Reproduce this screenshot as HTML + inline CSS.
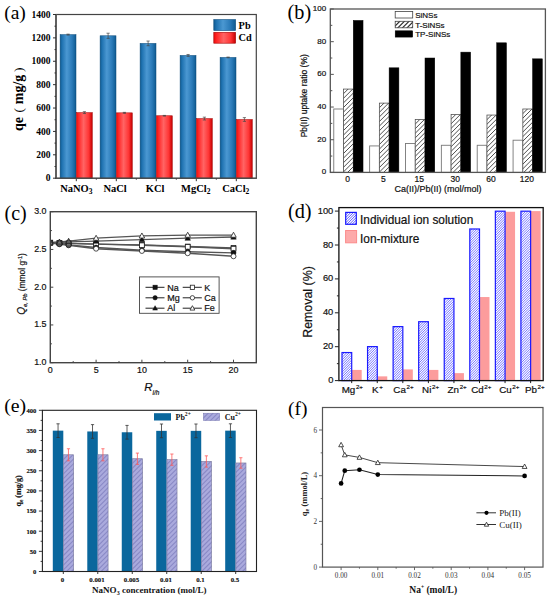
<!DOCTYPE html>
<html><head><meta charset="utf-8"><style>
html,body{margin:0;padding:0;background:#fff;}
body{width:550px;height:598px;overflow:hidden;font-family:"Liberation Sans",sans-serif;}
svg{display:block;}
</style></head><body>
<svg width="550" height="598" viewBox="0 0 550 598">
<rect width="550" height="598" fill="#fff"/>
<defs>
<linearGradient id="gBlue" x1="0" x2="1" y1="0" y2="0">
 <stop offset="0" stop-color="#0e5a92"/>
 <stop offset="0.12" stop-color="#1f72b0"/>
 <stop offset="0.42" stop-color="#4b98d2"/>
 <stop offset="0.75" stop-color="#2a7ab8"/>
 <stop offset="1" stop-color="#0f5a90"/>
</linearGradient>
<linearGradient id="gRed" x1="0" x2="1" y1="0" y2="0">
 <stop offset="0" stop-color="#e80c0c"/>
 <stop offset="0.12" stop-color="#ff2424"/>
 <stop offset="0.45" stop-color="#ff6464"/>
 <stop offset="0.78" stop-color="#ff3434"/>
 <stop offset="1" stop-color="#c40000"/>
</linearGradient>
<pattern id="hB" patternUnits="userSpaceOnUse" width="3.3" height="3.3" patternTransform="rotate(45)">
 <rect width="3.3" height="3.3" fill="#fff"/>
 <line x1="0" y1="0" x2="0" y2="3.3" stroke="#333" stroke-width="1.25"/>
</pattern>
<pattern id="hD" patternUnits="userSpaceOnUse" width="1.62" height="1.62" patternTransform="rotate(45)">
 <rect width="1.62" height="1.62" fill="#ffffff"/>
 <line x1="0.4" y1="0" x2="0.4" y2="1.62" stroke="#5050ff" stroke-width="0.8"/>
</pattern>
<pattern id="hE" patternUnits="userSpaceOnUse" width="4" height="4" patternTransform="rotate(45)">
 <rect width="4" height="4" fill="#aaaadc"/>
 <line x1="0" y1="0" x2="0" y2="4" stroke="#8484c0" stroke-width="1"/>
</pattern>
</defs>
<text x="4.20" y="18.60" font-family='"Liberation Serif", serif' font-size="19.5" font-weight="normal" font-style="normal" text-anchor="start" fill="#000" >(a)</text>
<rect x="60.10" y="34.61" width="15.90" height="143.59" fill="url(#gBlue)" stroke="#0b4a7a" stroke-width="0.5" />
<rect x="76.40" y="112.60" width="15.90" height="65.60" fill="url(#gRed)" stroke="#a00000" stroke-width="0.5" />
<line x1="68.10" y1="34.14" x2="68.10" y2="35.08" stroke="#444" stroke-width="0.7" />
<line x1="66.50" y1="34.14" x2="69.70" y2="34.14" stroke="#444" stroke-width="0.7" />
<line x1="66.50" y1="35.08" x2="69.70" y2="35.08" stroke="#444" stroke-width="0.7" />
<line x1="84.40" y1="111.67" x2="84.40" y2="113.54" stroke="#444" stroke-width="0.7" />
<line x1="82.80" y1="111.67" x2="86.00" y2="111.67" stroke="#444" stroke-width="0.7" />
<line x1="82.80" y1="113.54" x2="86.00" y2="113.54" stroke="#444" stroke-width="0.7" />
<text x="76.30" y="191.80" font-family='"Liberation Serif", serif' font-size="10.5" font-weight="bold" font-style="normal" text-anchor="middle" fill="#000" >NaNO<tspan font-size="7.5" dy="2.5">3</tspan></text>
<line x1="76.30" y1="178.20" x2="76.30" y2="181.20" stroke="#333" stroke-width="1" />
<line x1="96.30" y1="178.20" x2="96.30" y2="179.70" stroke="#333" stroke-width="1" />
<rect x="100.10" y="35.78" width="15.90" height="142.42" fill="url(#gBlue)" stroke="#0b4a7a" stroke-width="0.5" />
<rect x="116.40" y="112.84" width="15.90" height="65.36" fill="url(#gRed)" stroke="#a00000" stroke-width="0.5" />
<line x1="108.10" y1="33.21" x2="108.10" y2="38.35" stroke="#444" stroke-width="0.7" />
<line x1="106.50" y1="33.21" x2="109.70" y2="33.21" stroke="#444" stroke-width="0.7" />
<line x1="106.50" y1="38.35" x2="109.70" y2="38.35" stroke="#444" stroke-width="0.7" />
<line x1="124.40" y1="112.37" x2="124.40" y2="113.30" stroke="#444" stroke-width="0.7" />
<line x1="122.80" y1="112.37" x2="126.00" y2="112.37" stroke="#444" stroke-width="0.7" />
<line x1="122.80" y1="113.30" x2="126.00" y2="113.30" stroke="#444" stroke-width="0.7" />
<text x="115.10" y="191.80" font-family='"Liberation Serif", serif' font-size="10.5" font-weight="bold" font-style="normal" text-anchor="middle" fill="#000" >NaCl</text>
<line x1="116.30" y1="178.20" x2="116.30" y2="181.20" stroke="#333" stroke-width="1" />
<line x1="136.30" y1="178.20" x2="136.30" y2="179.70" stroke="#333" stroke-width="1" />
<rect x="140.10" y="43.38" width="15.90" height="134.82" fill="url(#gBlue)" stroke="#0b4a7a" stroke-width="0.5" />
<rect x="156.40" y="115.76" width="15.90" height="62.44" fill="url(#gRed)" stroke="#a00000" stroke-width="0.5" />
<line x1="148.10" y1="41.04" x2="148.10" y2="45.72" stroke="#444" stroke-width="0.7" />
<line x1="146.50" y1="41.04" x2="149.70" y2="41.04" stroke="#444" stroke-width="0.7" />
<line x1="146.50" y1="45.72" x2="149.70" y2="45.72" stroke="#444" stroke-width="0.7" />
<line x1="164.40" y1="115.41" x2="164.40" y2="116.11" stroke="#444" stroke-width="0.7" />
<line x1="162.80" y1="115.41" x2="166.00" y2="115.41" stroke="#444" stroke-width="0.7" />
<line x1="162.80" y1="116.11" x2="166.00" y2="116.11" stroke="#444" stroke-width="0.7" />
<text x="155.20" y="191.80" font-family='"Liberation Serif", serif' font-size="10.5" font-weight="bold" font-style="normal" text-anchor="middle" fill="#000" >KCl</text>
<line x1="156.30" y1="178.20" x2="156.30" y2="181.20" stroke="#333" stroke-width="1" />
<line x1="176.30" y1="178.20" x2="176.30" y2="179.70" stroke="#333" stroke-width="1" />
<rect x="180.10" y="55.42" width="15.90" height="122.77" fill="url(#gBlue)" stroke="#0b4a7a" stroke-width="0.5" />
<rect x="196.40" y="118.57" width="15.90" height="59.63" fill="url(#gRed)" stroke="#a00000" stroke-width="0.5" />
<line x1="188.10" y1="54.49" x2="188.10" y2="56.36" stroke="#444" stroke-width="0.7" />
<line x1="186.50" y1="54.49" x2="189.70" y2="54.49" stroke="#444" stroke-width="0.7" />
<line x1="186.50" y1="56.36" x2="189.70" y2="56.36" stroke="#444" stroke-width="0.7" />
<line x1="204.40" y1="117.16" x2="204.40" y2="119.97" stroke="#444" stroke-width="0.7" />
<line x1="202.80" y1="117.16" x2="206.00" y2="117.16" stroke="#444" stroke-width="0.7" />
<line x1="202.80" y1="119.97" x2="206.00" y2="119.97" stroke="#444" stroke-width="0.7" />
<text x="195.80" y="191.80" font-family='"Liberation Serif", serif' font-size="10.5" font-weight="bold" font-style="normal" text-anchor="middle" fill="#000" >MgCl<tspan font-size="7.5" dy="2.5">2</tspan></text>
<line x1="196.30" y1="178.20" x2="196.30" y2="181.20" stroke="#333" stroke-width="1" />
<line x1="216.30" y1="178.20" x2="216.30" y2="179.70" stroke="#333" stroke-width="1" />
<rect x="220.10" y="57.41" width="15.90" height="120.79" fill="url(#gBlue)" stroke="#0b4a7a" stroke-width="0.5" />
<rect x="236.40" y="119.50" width="15.90" height="58.70" fill="url(#gRed)" stroke="#a00000" stroke-width="0.5" />
<line x1="228.10" y1="57.06" x2="228.10" y2="57.76" stroke="#444" stroke-width="0.7" />
<line x1="226.50" y1="57.06" x2="229.70" y2="57.06" stroke="#444" stroke-width="0.7" />
<line x1="226.50" y1="57.76" x2="229.70" y2="57.76" stroke="#444" stroke-width="0.7" />
<line x1="244.40" y1="117.63" x2="244.40" y2="121.37" stroke="#444" stroke-width="0.7" />
<line x1="242.80" y1="117.63" x2="246.00" y2="117.63" stroke="#444" stroke-width="0.7" />
<line x1="242.80" y1="121.37" x2="246.00" y2="121.37" stroke="#444" stroke-width="0.7" />
<text x="235.80" y="191.80" font-family='"Liberation Serif", serif' font-size="10.5" font-weight="bold" font-style="normal" text-anchor="middle" fill="#000" >CaCl<tspan font-size="7.5" dy="2.5">2</tspan></text>
<line x1="236.30" y1="178.20" x2="236.30" y2="181.20" stroke="#333" stroke-width="1" />
<rect x="56.00" y="14.50" width="200.30" height="163.70" fill="none" stroke="#444" stroke-width="1.2" />
<line x1="56.00" y1="13.90" x2="56.00" y2="178.80" stroke="#555" stroke-width="1.6" />
<line x1="55.40" y1="178.20" x2="256.90" y2="178.20" stroke="#4a4a4a" stroke-width="1.15" />
<line x1="53.00" y1="178.20" x2="56.00" y2="178.20" stroke="#333" stroke-width="1" />
<text x="50.60" y="181.40" font-family='"Liberation Serif", serif' font-size="9.5" font-weight="bold" font-style="normal" text-anchor="end" fill="#000" >0</text>
<line x1="54.50" y1="166.51" x2="56.00" y2="166.51" stroke="#333" stroke-width="1" />
<line x1="53.00" y1="154.81" x2="56.00" y2="154.81" stroke="#333" stroke-width="1" />
<text x="50.60" y="158.01" font-family='"Liberation Serif", serif' font-size="9.5" font-weight="bold" font-style="normal" text-anchor="end" fill="#000" >200</text>
<line x1="54.50" y1="143.12" x2="56.00" y2="143.12" stroke="#333" stroke-width="1" />
<line x1="53.00" y1="131.43" x2="56.00" y2="131.43" stroke="#333" stroke-width="1" />
<text x="50.60" y="134.63" font-family='"Liberation Serif", serif' font-size="9.5" font-weight="bold" font-style="normal" text-anchor="end" fill="#000" >400</text>
<line x1="54.50" y1="119.74" x2="56.00" y2="119.74" stroke="#333" stroke-width="1" />
<line x1="53.00" y1="108.04" x2="56.00" y2="108.04" stroke="#333" stroke-width="1" />
<text x="50.60" y="111.24" font-family='"Liberation Serif", serif' font-size="9.5" font-weight="bold" font-style="normal" text-anchor="end" fill="#000" >600</text>
<line x1="54.50" y1="96.35" x2="56.00" y2="96.35" stroke="#333" stroke-width="1" />
<line x1="53.00" y1="84.66" x2="56.00" y2="84.66" stroke="#333" stroke-width="1" />
<text x="50.60" y="87.86" font-family='"Liberation Serif", serif' font-size="9.5" font-weight="bold" font-style="normal" text-anchor="end" fill="#000" >800</text>
<line x1="54.50" y1="72.96" x2="56.00" y2="72.96" stroke="#333" stroke-width="1" />
<line x1="53.00" y1="61.27" x2="56.00" y2="61.27" stroke="#333" stroke-width="1" />
<text x="50.60" y="64.47" font-family='"Liberation Serif", serif' font-size="9.5" font-weight="bold" font-style="normal" text-anchor="end" fill="#000" >1000</text>
<line x1="54.50" y1="49.58" x2="56.00" y2="49.58" stroke="#333" stroke-width="1" />
<line x1="53.00" y1="37.89" x2="56.00" y2="37.89" stroke="#333" stroke-width="1" />
<text x="50.60" y="41.09" font-family='"Liberation Serif", serif' font-size="9.5" font-weight="bold" font-style="normal" text-anchor="end" fill="#000" >1200</text>
<line x1="54.50" y1="26.19" x2="56.00" y2="26.19" stroke="#333" stroke-width="1" />
<line x1="53.00" y1="14.50" x2="56.00" y2="14.50" stroke="#333" stroke-width="1" />
<text x="50.60" y="17.70" font-family='"Liberation Serif", serif' font-size="9.5" font-weight="bold" font-style="normal" text-anchor="end" fill="#000" >1400</text>
<g transform="translate(23.0,131.1) rotate(-90)">
<text x="0.00" y="0.00" font-family='"Liberation Serif", serif' font-size="14" font-weight="bold" font-style="normal" text-anchor="start" fill="#000" >qe</text>
<text x="18.60" y="-0.50" font-family='"Liberation Serif", serif' font-size="13.5" font-weight="normal" font-style="normal" text-anchor="start" fill="#000" >(</text>
<text x="26.90" y="0.00" font-family='"Liberation Serif", serif' font-size="14" font-weight="bold" font-style="normal" text-anchor="start" fill="#000" >mg/g</text>
<text x="59.00" y="-0.50" font-family='"Liberation Serif", serif' font-size="13.5" font-weight="normal" font-style="normal" text-anchor="start" fill="#000" >)</text>
</g>
<rect x="213.80" y="19.60" width="21.80" height="10.90" fill="url(#gBlue)" stroke="#0b4a7a" stroke-width="0.6" />
<rect x="213.80" y="32.30" width="21.80" height="10.90" fill="url(#gRed)" stroke="#a00000" stroke-width="0.6" />
<text x="238.60" y="28.70" font-family='"Liberation Serif", serif' font-size="10.3" font-weight="bold" font-style="normal" text-anchor="start" fill="#000" >Pb</text>
<text x="238.60" y="41.30" font-family='"Liberation Serif", serif' font-size="10.3" font-weight="bold" font-style="normal" text-anchor="start" fill="#000" >Cd</text>
<text x="287.60" y="18.60" font-family='"Liberation Serif", serif' font-size="20.3" font-weight="normal" font-style="normal" text-anchor="start" fill="#000" >(b)</text>
<rect x="333.77" y="109.00" width="9.75" height="63.40" fill="#fff" stroke="#777" stroke-width="0.9" />
<clipPath id="c1"><rect x="343.52" y="89.07" width="9.75" height="83.33"/></clipPath>
<rect x="343.52" y="89.07" width="9.75" height="83.33" fill="#fff" stroke="none" stroke-width="1" />
<path clip-path="url(#c1)" d="M342.52,90.07L354.27,78.32M342.52,94.67L354.27,82.92M342.52,99.27L354.27,87.52M342.52,103.87L354.27,92.12M342.52,108.47L354.27,96.72M342.52,113.07L354.27,101.32M342.52,117.67L354.27,105.92M342.52,122.27L354.27,110.52M342.52,126.87L354.27,115.12M342.52,131.47L354.27,119.72M342.52,136.07L354.27,124.32M342.52,140.67L354.27,128.92M342.52,145.27L354.27,133.52M342.52,149.87L354.27,138.12M342.52,154.47L354.27,142.72M342.52,159.07L354.27,147.32M342.52,163.67L354.27,151.92M342.52,168.27L354.27,156.52M342.52,172.87L354.27,161.12M342.52,177.47L354.27,165.72M342.52,182.07L354.27,170.32M342.52,186.67L354.27,174.92" stroke="#444" stroke-width="0.95" fill="none"/>
<rect x="343.52" y="89.07" width="9.75" height="83.33" fill="none" stroke="#555" stroke-width="0.8" />
<rect x="353.27" y="20.44" width="9.75" height="151.96" fill="#000" stroke="#000" stroke-width="0.5" />
<text x="347.60" y="181.70" font-family='"Liberation Sans", sans-serif' font-size="8.5" font-weight="normal" font-style="normal" text-anchor="middle" fill="#111" stroke="#111" stroke-width="0.2">0</text>
<rect x="369.63" y="145.93" width="9.75" height="26.47" fill="#fff" stroke="#777" stroke-width="0.9" />
<clipPath id="c2"><rect x="379.38" y="103.12" width="9.75" height="69.28"/></clipPath>
<rect x="379.38" y="103.12" width="9.75" height="69.28" fill="#fff" stroke="none" stroke-width="1" />
<path clip-path="url(#c2)" d="M378.38,104.12L390.13,92.37M378.38,108.72L390.13,96.97M378.38,113.32L390.13,101.57M378.38,117.92L390.13,106.17M378.38,122.52L390.13,110.77M378.38,127.12L390.13,115.37M378.38,131.72L390.13,119.97M378.38,136.32L390.13,124.57M378.38,140.92L390.13,129.17M378.38,145.52L390.13,133.77M378.38,150.12L390.13,138.37M378.38,154.72L390.13,142.97M378.38,159.32L390.13,147.57M378.38,163.92L390.13,152.17M378.38,168.52L390.13,156.77M378.38,173.12L390.13,161.37M378.38,177.72L390.13,165.97M378.38,182.32L390.13,170.57M378.38,186.92L390.13,175.17" stroke="#444" stroke-width="0.95" fill="none"/>
<rect x="379.38" y="103.12" width="9.75" height="69.28" fill="none" stroke="#555" stroke-width="0.8" />
<rect x="389.13" y="67.82" width="9.75" height="104.58" fill="#000" stroke="#000" stroke-width="0.5" />
<text x="383.46" y="181.70" font-family='"Liberation Sans", sans-serif' font-size="8.5" font-weight="normal" font-style="normal" text-anchor="middle" fill="#111" stroke="#111" stroke-width="0.2">5</text>
<rect x="405.50" y="143.48" width="9.75" height="28.92" fill="#fff" stroke="#777" stroke-width="0.9" />
<clipPath id="c3"><rect x="415.25" y="119.46" width="9.75" height="52.94"/></clipPath>
<rect x="415.25" y="119.46" width="9.75" height="52.94" fill="#fff" stroke="none" stroke-width="1" />
<path clip-path="url(#c3)" d="M414.25,120.46L426.00,108.71M414.25,125.06L426.00,113.31M414.25,129.66L426.00,117.91M414.25,134.26L426.00,122.51M414.25,138.86L426.00,127.11M414.25,143.46L426.00,131.71M414.25,148.06L426.00,136.31M414.25,152.66L426.00,140.91M414.25,157.26L426.00,145.51M414.25,161.86L426.00,150.11M414.25,166.46L426.00,154.71M414.25,171.06L426.00,159.31M414.25,175.66L426.00,163.91M414.25,180.26L426.00,168.51M414.25,184.86L426.00,173.11" stroke="#444" stroke-width="0.95" fill="none"/>
<rect x="415.25" y="119.46" width="9.75" height="52.94" fill="none" stroke="#555" stroke-width="0.8" />
<rect x="425.00" y="58.02" width="9.75" height="114.38" fill="#000" stroke="#000" stroke-width="0.5" />
<text x="419.32" y="181.70" font-family='"Liberation Sans", sans-serif' font-size="8.5" font-weight="normal" font-style="normal" text-anchor="middle" fill="#111" stroke="#111" stroke-width="0.2">15</text>
<rect x="441.35" y="145.28" width="9.75" height="27.12" fill="#fff" stroke="#777" stroke-width="0.9" />
<clipPath id="c4"><rect x="451.10" y="114.56" width="9.75" height="57.84"/></clipPath>
<rect x="451.10" y="114.56" width="9.75" height="57.84" fill="#fff" stroke="none" stroke-width="1" />
<path clip-path="url(#c4)" d="M450.10,115.56L461.85,103.81M450.10,120.16L461.85,108.41M450.10,124.76L461.85,113.01M450.10,129.36L461.85,117.61M450.10,133.96L461.85,122.21M450.10,138.56L461.85,126.81M450.10,143.16L461.85,131.41M450.10,147.76L461.85,136.01M450.10,152.36L461.85,140.61M450.10,156.96L461.85,145.21M450.10,161.56L461.85,149.81M450.10,166.16L461.85,154.41M450.10,170.76L461.85,159.01M450.10,175.36L461.85,163.61M450.10,179.96L461.85,168.21M450.10,184.56L461.85,172.81" stroke="#444" stroke-width="0.95" fill="none"/>
<rect x="451.10" y="114.56" width="9.75" height="57.84" fill="none" stroke="#555" stroke-width="0.8" />
<rect x="460.85" y="52.14" width="9.75" height="120.26" fill="#000" stroke="#000" stroke-width="0.5" />
<text x="455.18" y="181.70" font-family='"Liberation Sans", sans-serif' font-size="8.5" font-weight="normal" font-style="normal" text-anchor="middle" fill="#111" stroke="#111" stroke-width="0.2">30</text>
<rect x="477.21" y="145.28" width="9.75" height="27.12" fill="#fff" stroke="#777" stroke-width="0.9" />
<clipPath id="c5"><rect x="486.96" y="115.05" width="9.75" height="57.35"/></clipPath>
<rect x="486.96" y="115.05" width="9.75" height="57.35" fill="#fff" stroke="none" stroke-width="1" />
<path clip-path="url(#c5)" d="M485.96,116.05L497.71,104.30M485.96,120.65L497.71,108.90M485.96,125.25L497.71,113.50M485.96,129.85L497.71,118.10M485.96,134.45L497.71,122.70M485.96,139.05L497.71,127.30M485.96,143.65L497.71,131.90M485.96,148.25L497.71,136.50M485.96,152.85L497.71,141.10M485.96,157.45L497.71,145.70M485.96,162.05L497.71,150.30M485.96,166.65L497.71,154.90M485.96,171.25L497.71,159.50M485.96,175.85L497.71,164.10M485.96,180.45L497.71,168.70M485.96,185.05L497.71,173.30" stroke="#444" stroke-width="0.95" fill="none"/>
<rect x="486.96" y="115.05" width="9.75" height="57.35" fill="none" stroke="#555" stroke-width="0.8" />
<rect x="496.71" y="42.82" width="9.75" height="129.58" fill="#000" stroke="#000" stroke-width="0.5" />
<text x="491.04" y="181.70" font-family='"Liberation Sans", sans-serif' font-size="8.5" font-weight="normal" font-style="normal" text-anchor="middle" fill="#111" stroke="#111" stroke-width="0.2">60</text>
<rect x="513.08" y="140.21" width="9.75" height="32.19" fill="#fff" stroke="#777" stroke-width="0.9" />
<clipPath id="c6"><rect x="522.83" y="109.00" width="9.75" height="63.40"/></clipPath>
<rect x="522.83" y="109.00" width="9.75" height="63.40" fill="#fff" stroke="none" stroke-width="1" />
<path clip-path="url(#c6)" d="M521.83,110.00L533.58,98.25M521.83,114.60L533.58,102.85M521.83,119.20L533.58,107.45M521.83,123.80L533.58,112.05M521.83,128.40L533.58,116.65M521.83,133.00L533.58,121.25M521.83,137.60L533.58,125.85M521.83,142.20L533.58,130.45M521.83,146.80L533.58,135.05M521.83,151.40L533.58,139.65M521.83,156.00L533.58,144.25M521.83,160.60L533.58,148.85M521.83,165.20L533.58,153.45M521.83,169.80L533.58,158.05M521.83,174.40L533.58,162.65M521.83,179.00L533.58,167.25M521.83,183.60L533.58,171.85" stroke="#444" stroke-width="0.95" fill="none"/>
<rect x="522.83" y="109.00" width="9.75" height="63.40" fill="none" stroke="#555" stroke-width="0.8" />
<rect x="532.58" y="58.84" width="9.75" height="113.56" fill="#000" stroke="#000" stroke-width="0.5" />
<text x="526.90" y="181.70" font-family='"Liberation Sans", sans-serif' font-size="8.5" font-weight="normal" font-style="normal" text-anchor="middle" fill="#111" stroke="#111" stroke-width="0.2">120</text>
<rect x="330.30" y="9.00" width="215.10" height="163.40" fill="none" stroke="#555" stroke-width="1.3" />
<line x1="330.30" y1="172.40" x2="333.80" y2="172.40" stroke="#555" stroke-width="1" />
<text x="326.20" y="174.30" font-family='"Liberation Sans", sans-serif' font-size="8" font-weight="normal" font-style="normal" text-anchor="end" fill="#111" stroke="#111" stroke-width="0.2">0</text>
<line x1="330.30" y1="156.06" x2="332.30" y2="156.06" stroke="#555" stroke-width="1" />
<line x1="330.30" y1="139.72" x2="333.80" y2="139.72" stroke="#555" stroke-width="1" />
<text x="326.20" y="141.62" font-family='"Liberation Sans", sans-serif' font-size="8" font-weight="normal" font-style="normal" text-anchor="end" fill="#111" stroke="#111" stroke-width="0.2">20</text>
<line x1="330.30" y1="123.38" x2="332.30" y2="123.38" stroke="#555" stroke-width="1" />
<line x1="330.30" y1="107.04" x2="333.80" y2="107.04" stroke="#555" stroke-width="1" />
<text x="326.20" y="108.94" font-family='"Liberation Sans", sans-serif' font-size="8" font-weight="normal" font-style="normal" text-anchor="end" fill="#111" stroke="#111" stroke-width="0.2">40</text>
<line x1="330.30" y1="90.70" x2="332.30" y2="90.70" stroke="#555" stroke-width="1" />
<line x1="330.30" y1="74.36" x2="333.80" y2="74.36" stroke="#555" stroke-width="1" />
<text x="326.20" y="76.26" font-family='"Liberation Sans", sans-serif' font-size="8" font-weight="normal" font-style="normal" text-anchor="end" fill="#111" stroke="#111" stroke-width="0.2">60</text>
<line x1="330.30" y1="58.02" x2="332.30" y2="58.02" stroke="#555" stroke-width="1" />
<line x1="330.30" y1="41.68" x2="333.80" y2="41.68" stroke="#555" stroke-width="1" />
<text x="326.20" y="43.58" font-family='"Liberation Sans", sans-serif' font-size="8" font-weight="normal" font-style="normal" text-anchor="end" fill="#111" stroke="#111" stroke-width="0.2">80</text>
<line x1="330.30" y1="25.34" x2="332.30" y2="25.34" stroke="#555" stroke-width="1" />
<line x1="330.30" y1="9.00" x2="333.80" y2="9.00" stroke="#555" stroke-width="1" />
<text x="326.20" y="10.90" font-family='"Liberation Sans", sans-serif' font-size="8" font-weight="normal" font-style="normal" text-anchor="end" fill="#111" stroke="#111" stroke-width="0.2">100</text>
<g transform="translate(307.0,95.8) rotate(-90)">
<text x="0.00" y="0.00" font-family='"Liberation Sans", sans-serif' font-size="8.5" font-weight="normal" font-style="normal" text-anchor="middle" fill="#111" stroke="#111" stroke-width="0.2">Pb(II) uptake ratio (%)</text>
</g>
<text x="438.00" y="192.30" font-family='"Liberation Sans", sans-serif' font-size="9" font-weight="normal" font-style="normal" text-anchor="middle" fill="#111" stroke="#111" stroke-width="0.2">Ca(II)/Pb(II) (mol/mol)</text>
<rect x="395.20" y="11.50" width="17.50" height="6.50" fill="#fff" stroke="#444" stroke-width="0.8" />
<clipPath id="c7"><rect x="395.20" y="21.30" width="17.50" height="6.50"/></clipPath>
<rect x="395.20" y="21.30" width="17.50" height="6.50" fill="#fff" stroke="none" stroke-width="1" />
<path clip-path="url(#c7)" d="M394.20,22.30L413.70,2.80M394.20,26.90L413.70,7.40M394.20,31.50L413.70,12.00M394.20,36.10L413.70,16.60M394.20,40.70L413.70,21.20M394.20,45.30L413.70,25.80M394.20,49.90L413.70,30.40" stroke="#333" stroke-width="1.2" fill="none"/>
<rect x="395.20" y="21.30" width="17.50" height="6.50" fill="none" stroke="#444" stroke-width="0.8" />
<rect x="395.20" y="30.80" width="17.50" height="6.30" fill="#000" stroke="#000" stroke-width="0.5" />
<text x="415.20" y="17.90" font-family='"Liberation Sans", sans-serif' font-size="8" font-weight="normal" font-style="normal" text-anchor="start" fill="#111" stroke="#111" stroke-width="0.2">SiNSs</text>
<text x="415.20" y="27.50" font-family='"Liberation Sans", sans-serif' font-size="8" font-weight="normal" font-style="normal" text-anchor="start" fill="#111" stroke="#111" stroke-width="0.2">T-SiNSs</text>
<text x="415.20" y="37.00" font-family='"Liberation Sans", sans-serif' font-size="8" font-weight="normal" font-style="normal" text-anchor="start" fill="#111" stroke="#111" stroke-width="0.2">TP-SiNSs</text>
<text x="4.50" y="220.20" font-family='"Liberation Serif", serif' font-size="20" font-weight="normal" font-style="normal" text-anchor="start" fill="#000" >(c)</text>
<clipPath id="clipc"><rect x="50.30" y="211.70" width="206.00" height="151.00"/></clipPath>
<g clip-path="url(#clipc)">
<polyline points="50.30,242.66 59.46,243.03 68.62,243.41 96.10,244.17 141.90,244.92 187.70,246.43 233.50,247.94" fill="none" stroke="#555" stroke-width="1.4"/>
<polyline points="50.30,242.66 59.46,243.03 68.62,243.41 96.10,244.17 141.90,245.30 187.70,246.81 233.50,248.69" fill="none" stroke="#555" stroke-width="1.4"/>
<polyline points="50.30,242.66 59.46,244.17 68.62,244.92 96.10,247.56 141.90,250.20 187.70,251.71 233.50,252.85" fill="none" stroke="#555" stroke-width="1.4"/>
<polyline points="50.30,243.03 59.46,244.17 68.62,245.30 96.10,248.69 141.90,250.96 187.70,253.22 233.50,256.25" fill="none" stroke="#555" stroke-width="1.4"/>
<polyline points="50.30,242.66 59.46,242.28 68.62,241.90 96.10,241.14 141.90,239.63 187.70,238.12 233.50,236.99" fill="none" stroke="#555" stroke-width="1.4"/>
<polyline points="50.30,242.66 59.46,241.90 68.62,241.14 96.10,238.12 141.90,235.86 187.70,235.10 233.50,235.10" fill="none" stroke="#555" stroke-width="1.4"/>
<rect x="47.90" y="240.25" width="4.80" height="4.80" fill="#111" stroke="#111" stroke-width="0.6" />
<rect x="57.06" y="240.63" width="4.80" height="4.80" fill="#111" stroke="#111" stroke-width="0.6" />
<rect x="66.22" y="241.01" width="4.80" height="4.80" fill="#111" stroke="#111" stroke-width="0.6" />
<circle cx="50.30" cy="242.66" r="2.50" fill="#111" stroke="#111" stroke-width="0.5"/>
<circle cx="59.46" cy="244.17" r="2.50" fill="#111" stroke="#111" stroke-width="0.5"/>
<circle cx="68.62" cy="244.92" r="2.50" fill="#111" stroke="#111" stroke-width="0.5"/>
<path d="M50.30,239.78 L53.06,244.81 L47.54,244.81Z" fill="#111" stroke="#111" stroke-width="0.5"/>
<path d="M59.46,239.40 L62.22,244.44 L56.70,244.44Z" fill="#111" stroke="#111" stroke-width="0.5"/>
<path d="M68.62,239.02 L71.38,244.06 L65.86,244.06Z" fill="#111" stroke="#111" stroke-width="0.5"/>
<rect x="47.90" y="240.25" width="4.80" height="4.80" fill="rgba(140,140,140,0.5)" stroke="#222" stroke-width="0.8" />
<rect x="57.06" y="240.63" width="4.80" height="4.80" fill="rgba(140,140,140,0.5)" stroke="#222" stroke-width="0.8" />
<rect x="66.22" y="241.01" width="4.80" height="4.80" fill="rgba(140,140,140,0.5)" stroke="#222" stroke-width="0.8" />
<circle cx="50.30" cy="243.03" r="2.50" fill="rgba(140,140,140,0.5)" stroke="#222" stroke-width="0.8"/>
<circle cx="59.46" cy="244.17" r="2.50" fill="rgba(140,140,140,0.5)" stroke="#222" stroke-width="0.8"/>
<circle cx="68.62" cy="245.30" r="2.50" fill="rgba(140,140,140,0.5)" stroke="#222" stroke-width="0.8"/>
<path d="M50.30,239.78 L53.06,244.81 L47.54,244.81Z" fill="rgba(140,140,140,0.5)" stroke="#222" stroke-width="0.8"/>
<path d="M59.46,239.02 L62.22,244.06 L56.70,244.06Z" fill="rgba(140,140,140,0.5)" stroke="#222" stroke-width="0.8"/>
<path d="M68.62,238.26 L71.38,243.30 L65.86,243.30Z" fill="rgba(140,140,140,0.5)" stroke="#222" stroke-width="0.8"/>
<rect x="93.70" y="241.77" width="4.80" height="4.80" fill="#111" stroke="#111" stroke-width="0.6" />
<rect x="139.50" y="242.52" width="4.80" height="4.80" fill="#111" stroke="#111" stroke-width="0.6" />
<rect x="185.30" y="244.03" width="4.80" height="4.80" fill="#111" stroke="#111" stroke-width="0.6" />
<rect x="231.10" y="245.54" width="4.80" height="4.80" fill="#111" stroke="#111" stroke-width="0.6" />
<rect x="93.70" y="241.77" width="4.80" height="4.80" fill="#fff" stroke="#222" stroke-width="0.8" />
<rect x="139.50" y="242.90" width="4.80" height="4.80" fill="#fff" stroke="#222" stroke-width="0.8" />
<rect x="185.30" y="244.41" width="4.80" height="4.80" fill="#fff" stroke="#222" stroke-width="0.8" />
<rect x="231.10" y="246.29" width="4.80" height="4.80" fill="#fff" stroke="#222" stroke-width="0.8" />
<circle cx="96.10" cy="247.56" r="2.50" fill="#111" stroke="#111" stroke-width="0.5"/>
<circle cx="141.90" cy="250.20" r="2.50" fill="#111" stroke="#111" stroke-width="0.5"/>
<circle cx="187.70" cy="251.71" r="2.50" fill="#111" stroke="#111" stroke-width="0.5"/>
<circle cx="233.50" cy="252.85" r="2.50" fill="#111" stroke="#111" stroke-width="0.5"/>
<circle cx="96.10" cy="248.69" r="2.50" fill="#fff" stroke="#222" stroke-width="0.8"/>
<circle cx="141.90" cy="250.96" r="2.50" fill="#fff" stroke="#222" stroke-width="0.8"/>
<circle cx="187.70" cy="253.22" r="2.50" fill="#fff" stroke="#222" stroke-width="0.8"/>
<circle cx="233.50" cy="256.25" r="2.50" fill="#fff" stroke="#222" stroke-width="0.8"/>
<path d="M96.10,238.26 L98.86,243.30 L93.34,243.30Z" fill="#111" stroke="#111" stroke-width="0.5"/>
<path d="M141.90,236.75 L144.66,241.79 L139.14,241.79Z" fill="#111" stroke="#111" stroke-width="0.5"/>
<path d="M187.70,235.25 L190.46,240.28 L184.94,240.28Z" fill="#111" stroke="#111" stroke-width="0.5"/>
<path d="M233.50,234.11 L236.26,239.15 L230.74,239.15Z" fill="#111" stroke="#111" stroke-width="0.5"/>
<path d="M96.10,235.25 L98.86,240.28 L93.34,240.28Z" fill="#fff" stroke="#222" stroke-width="0.8"/>
<path d="M141.90,232.98 L144.66,238.02 L139.14,238.02Z" fill="#fff" stroke="#222" stroke-width="0.8"/>
<path d="M187.70,232.22 L190.46,237.26 L184.94,237.26Z" fill="#fff" stroke="#222" stroke-width="0.8"/>
<path d="M233.50,232.22 L236.26,237.26 L230.74,237.26Z" fill="#fff" stroke="#222" stroke-width="0.8"/>
</g>
<rect x="50.30" y="211.70" width="206.00" height="151.00" fill="none" stroke="#444" stroke-width="1.4" />
<line x1="50.30" y1="362.70" x2="53.30" y2="362.70" stroke="#444" stroke-width="1" />
<text x="46.50" y="365.20" font-family='"Liberation Sans", sans-serif' font-size="8.9" font-weight="normal" font-style="normal" text-anchor="end" fill="#111" stroke="#111" stroke-width="0.2">1.0</text>
<line x1="50.30" y1="343.82" x2="51.90" y2="343.82" stroke="#444" stroke-width="1" />
<line x1="50.30" y1="324.95" x2="53.30" y2="324.95" stroke="#444" stroke-width="1" />
<text x="46.50" y="327.45" font-family='"Liberation Sans", sans-serif' font-size="8.9" font-weight="normal" font-style="normal" text-anchor="end" fill="#111" stroke="#111" stroke-width="0.2">1.5</text>
<line x1="50.30" y1="306.07" x2="51.90" y2="306.07" stroke="#444" stroke-width="1" />
<line x1="50.30" y1="287.20" x2="53.30" y2="287.20" stroke="#444" stroke-width="1" />
<text x="46.50" y="289.70" font-family='"Liberation Sans", sans-serif' font-size="8.9" font-weight="normal" font-style="normal" text-anchor="end" fill="#111" stroke="#111" stroke-width="0.2">2.0</text>
<line x1="50.30" y1="268.32" x2="51.90" y2="268.32" stroke="#444" stroke-width="1" />
<line x1="50.30" y1="249.45" x2="53.30" y2="249.45" stroke="#444" stroke-width="1" />
<text x="46.50" y="251.95" font-family='"Liberation Sans", sans-serif' font-size="8.9" font-weight="normal" font-style="normal" text-anchor="end" fill="#111" stroke="#111" stroke-width="0.2">2.5</text>
<line x1="50.30" y1="230.57" x2="51.90" y2="230.57" stroke="#444" stroke-width="1" />
<line x1="50.30" y1="211.70" x2="53.30" y2="211.70" stroke="#444" stroke-width="1" />
<text x="46.50" y="214.20" font-family='"Liberation Sans", sans-serif' font-size="8.9" font-weight="normal" font-style="normal" text-anchor="end" fill="#111" stroke="#111" stroke-width="0.2">3.0</text>
<line x1="50.30" y1="362.70" x2="50.30" y2="359.70" stroke="#444" stroke-width="1" />
<text x="50.30" y="373.20" font-family='"Liberation Sans", sans-serif' font-size="8.9" font-weight="normal" font-style="normal" text-anchor="middle" fill="#111" stroke="#111" stroke-width="0.2">0</text>
<line x1="73.20" y1="362.70" x2="73.20" y2="361.10" stroke="#444" stroke-width="1" />
<line x1="96.10" y1="362.70" x2="96.10" y2="359.70" stroke="#444" stroke-width="1" />
<text x="96.10" y="373.20" font-family='"Liberation Sans", sans-serif' font-size="8.9" font-weight="normal" font-style="normal" text-anchor="middle" fill="#111" stroke="#111" stroke-width="0.2">5</text>
<line x1="119.00" y1="362.70" x2="119.00" y2="361.10" stroke="#444" stroke-width="1" />
<line x1="141.90" y1="362.70" x2="141.90" y2="359.70" stroke="#444" stroke-width="1" />
<text x="141.90" y="373.20" font-family='"Liberation Sans", sans-serif' font-size="8.9" font-weight="normal" font-style="normal" text-anchor="middle" fill="#111" stroke="#111" stroke-width="0.2">10</text>
<line x1="164.80" y1="362.70" x2="164.80" y2="361.10" stroke="#444" stroke-width="1" />
<line x1="187.70" y1="362.70" x2="187.70" y2="359.70" stroke="#444" stroke-width="1" />
<text x="187.70" y="373.20" font-family='"Liberation Sans", sans-serif' font-size="8.9" font-weight="normal" font-style="normal" text-anchor="middle" fill="#111" stroke="#111" stroke-width="0.2">15</text>
<line x1="210.60" y1="362.70" x2="210.60" y2="361.10" stroke="#444" stroke-width="1" />
<line x1="233.50" y1="362.70" x2="233.50" y2="359.70" stroke="#444" stroke-width="1" />
<text x="233.50" y="373.20" font-family='"Liberation Sans", sans-serif' font-size="8.9" font-weight="normal" font-style="normal" text-anchor="middle" fill="#111" stroke="#111" stroke-width="0.2">20</text>
<rect x="139.50" y="276.90" width="79.60" height="36.40" fill="#fff" stroke="#444" stroke-width="0.9" />
<line x1="145.50" y1="287.30" x2="164.50" y2="287.30" stroke="#222" stroke-width="1" />
<rect x="153.00" y="285.20" width="4.20" height="4.20" fill="#111" stroke="#111" stroke-width="0.6" />
<text x="167.30" y="290.50" font-family='"Liberation Sans", sans-serif' font-size="9" font-weight="normal" font-style="normal" text-anchor="start" fill="#111" stroke="#111" stroke-width="0.2">Na</text>
<line x1="182.70" y1="287.30" x2="201.80" y2="287.30" stroke="#222" stroke-width="1" />
<rect x="190.30" y="285.20" width="4.20" height="4.20" fill="#fff" stroke="#222" stroke-width="0.8" />
<text x="204.20" y="290.50" font-family='"Liberation Sans", sans-serif' font-size="9" font-weight="normal" font-style="normal" text-anchor="start" fill="#111" stroke="#111" stroke-width="0.2">K</text>
<line x1="145.50" y1="297.80" x2="164.50" y2="297.80" stroke="#222" stroke-width="1" />
<circle cx="155.10" cy="297.80" r="2.20" fill="#111" stroke="#111" stroke-width="0.5"/>
<text x="167.30" y="301.00" font-family='"Liberation Sans", sans-serif' font-size="9" font-weight="normal" font-style="normal" text-anchor="start" fill="#111" stroke="#111" stroke-width="0.2">Mg</text>
<line x1="182.70" y1="297.80" x2="201.80" y2="297.80" stroke="#222" stroke-width="1" />
<circle cx="192.40" cy="297.80" r="2.20" fill="#fff" stroke="#222" stroke-width="0.8"/>
<text x="204.20" y="301.00" font-family='"Liberation Sans", sans-serif' font-size="9" font-weight="normal" font-style="normal" text-anchor="start" fill="#111" stroke="#111" stroke-width="0.2">Ca</text>
<line x1="145.50" y1="308.20" x2="164.50" y2="308.20" stroke="#222" stroke-width="1" />
<path d="M155.10,305.68 L157.51,310.09 L152.69,310.09Z" fill="#111" stroke="#111" stroke-width="0.5"/>
<text x="167.30" y="311.40" font-family='"Liberation Sans", sans-serif' font-size="9" font-weight="normal" font-style="normal" text-anchor="start" fill="#111" stroke="#111" stroke-width="0.2">Al</text>
<line x1="182.70" y1="308.20" x2="201.80" y2="308.20" stroke="#222" stroke-width="1" />
<path d="M192.40,305.68 L194.81,310.09 L189.99,310.09Z" fill="#fff" stroke="#222" stroke-width="0.8"/>
<text x="204.20" y="311.40" font-family='"Liberation Sans", sans-serif' font-size="9" font-weight="normal" font-style="normal" text-anchor="start" fill="#111" stroke="#111" stroke-width="0.2">Fe</text>
<g transform="translate(25.2,284) rotate(-90)">
<text x="0.00" y="0.00" font-family='"Liberation Sans", sans-serif' font-size="8.4" font-weight="normal" font-style="normal" text-anchor="middle" fill="#111" stroke="#111" stroke-width="0.2"><tspan font-style="italic" font-size="10">Q</tspan><tspan font-style="italic" font-size="5.8" dy="2">e, Pb</tspan><tspan dy="-2"> (mmol g</tspan><tspan font-size="5.5" dy="-3.2">-1</tspan><tspan dy="3.2">)</tspan></text>
</g>
<text x="144.20" y="390.50" font-family='"Liberation Sans", sans-serif' font-size="11.5" font-weight="normal" font-style="normal" text-anchor="start" fill="#111" stroke="#111" stroke-width="0.2"><tspan font-style="italic">R</tspan><tspan font-style="italic" font-size="6.5" dy="4.3">i/h</tspan></text>
<text x="287.90" y="217.60" font-family='"Liberation Serif", serif' font-size="20.3" font-weight="normal" font-style="normal" text-anchor="start" fill="#000" >(d)</text>
<rect x="351.70" y="369.92" width="10.00" height="10.68" fill="#fc9c9c" stroke="none" stroke-width="1" />
<clipPath id="c8"><rect x="342.00" y="352.55" width="9.70" height="28.05"/></clipPath>
<rect x="342.00" y="352.55" width="9.70" height="28.05" fill="#fff" stroke="none" stroke-width="1" />
<path clip-path="url(#c8)" d="M341.00,353.55L352.70,341.85M341.00,356.00L352.70,344.30M341.00,358.45L352.70,346.75M341.00,360.90L352.70,349.20M341.00,363.35L352.70,351.65M341.00,365.80L352.70,354.10M341.00,368.25L352.70,356.55M341.00,370.70L352.70,359.00M341.00,373.15L352.70,361.45M341.00,375.60L352.70,363.90M341.00,378.05L352.70,366.35M341.00,380.50L352.70,368.80M341.00,382.95L352.70,371.25M341.00,385.40L352.70,373.70M341.00,387.85L352.70,376.15M341.00,390.30L352.70,378.60M341.00,392.75L352.70,381.05" stroke="#5050ff" stroke-width="0.8" fill="none"/>
<rect x="342.00" y="352.55" width="9.70" height="28.05" fill="none" stroke="#1a1aff" stroke-width="1.2" />
<line x1="351.70" y1="380.60" x2="351.70" y2="383.10" stroke="#222" stroke-width="1" />
<text x="352.30" y="393.20" font-family='"Liberation Sans", sans-serif' font-size="9.8" font-weight="normal" font-style="normal" text-anchor="middle" fill="#111" stroke="#111" stroke-width="0.2">Mg<tspan font-size="6.2" dx="0.6" dy="-4.3">2+</tspan></text>
<rect x="377.26" y="376.36" width="10.00" height="4.24" fill="#fc9c9c" stroke="none" stroke-width="1" />
<clipPath id="c9"><rect x="367.56" y="346.62" width="9.70" height="33.98"/></clipPath>
<rect x="367.56" y="346.62" width="9.70" height="33.98" fill="#fff" stroke="none" stroke-width="1" />
<path clip-path="url(#c9)" d="M366.56,347.62L378.26,335.92M366.56,350.07L378.26,338.37M366.56,352.52L378.26,340.82M366.56,354.97L378.26,343.27M366.56,357.42L378.26,345.72M366.56,359.87L378.26,348.17M366.56,362.32L378.26,350.62M366.56,364.77L378.26,353.07M366.56,367.22L378.26,355.52M366.56,369.67L378.26,357.97M366.56,372.12L378.26,360.42M366.56,374.57L378.26,362.87M366.56,377.02L378.26,365.32M366.56,379.47L378.26,367.77M366.56,381.92L378.26,370.22M366.56,384.37L378.26,372.67M366.56,386.82L378.26,375.12M366.56,389.27L378.26,377.57M366.56,391.72L378.26,380.02" stroke="#5050ff" stroke-width="0.8" fill="none"/>
<rect x="367.56" y="346.62" width="9.70" height="33.98" fill="none" stroke="#1a1aff" stroke-width="1.2" />
<line x1="377.26" y1="380.60" x2="377.26" y2="383.10" stroke="#222" stroke-width="1" />
<text x="377.46" y="393.20" font-family='"Liberation Sans", sans-serif' font-size="9.8" font-weight="normal" font-style="normal" text-anchor="middle" fill="#111" stroke="#111" stroke-width="0.2">K<tspan font-size="6.2" dx="0.6" dy="-4.3">+</tspan></text>
<rect x="402.82" y="369.41" width="10.00" height="11.19" fill="#fc9c9c" stroke="none" stroke-width="1" />
<clipPath id="c10"><rect x="393.12" y="326.62" width="9.70" height="53.98"/></clipPath>
<rect x="393.12" y="326.62" width="9.70" height="53.98" fill="#fff" stroke="none" stroke-width="1" />
<path clip-path="url(#c10)" d="M392.12,327.62L403.82,315.92M392.12,330.07L403.82,318.37M392.12,332.52L403.82,320.82M392.12,334.97L403.82,323.27M392.12,337.42L403.82,325.72M392.12,339.87L403.82,328.17M392.12,342.32L403.82,330.62M392.12,344.77L403.82,333.07M392.12,347.22L403.82,335.52M392.12,349.67L403.82,337.97M392.12,352.12L403.82,340.42M392.12,354.57L403.82,342.87M392.12,357.02L403.82,345.32M392.12,359.47L403.82,347.77M392.12,361.92L403.82,350.22M392.12,364.37L403.82,352.67M392.12,366.82L403.82,355.12M392.12,369.27L403.82,357.57M392.12,371.72L403.82,360.02M392.12,374.17L403.82,362.47M392.12,376.62L403.82,364.92M392.12,379.07L403.82,367.37M392.12,381.52L403.82,369.82M392.12,383.97L403.82,372.27M392.12,386.42L403.82,374.72M392.12,388.87L403.82,377.17M392.12,391.32L403.82,379.62" stroke="#5050ff" stroke-width="0.8" fill="none"/>
<rect x="393.12" y="326.62" width="9.70" height="53.98" fill="none" stroke="#1a1aff" stroke-width="1.2" />
<line x1="402.82" y1="380.60" x2="402.82" y2="383.10" stroke="#222" stroke-width="1" />
<text x="403.42" y="393.20" font-family='"Liberation Sans", sans-serif' font-size="9.8" font-weight="normal" font-style="normal" text-anchor="middle" fill="#111" stroke="#111" stroke-width="0.2">Ca<tspan font-size="6.2" dx="0.6" dy="-4.3">2+</tspan></text>
<rect x="428.38" y="369.92" width="10.00" height="10.68" fill="#fc9c9c" stroke="none" stroke-width="1" />
<clipPath id="c11"><rect x="418.68" y="321.71" width="9.70" height="58.89"/></clipPath>
<rect x="418.68" y="321.71" width="9.70" height="58.89" fill="#fff" stroke="none" stroke-width="1" />
<path clip-path="url(#c11)" d="M417.68,322.71L429.38,311.01M417.68,325.16L429.38,313.46M417.68,327.61L429.38,315.91M417.68,330.06L429.38,318.36M417.68,332.51L429.38,320.81M417.68,334.96L429.38,323.26M417.68,337.41L429.38,325.71M417.68,339.86L429.38,328.16M417.68,342.31L429.38,330.61M417.68,344.76L429.38,333.06M417.68,347.21L429.38,335.51M417.68,349.66L429.38,337.96M417.68,352.11L429.38,340.41M417.68,354.56L429.38,342.86M417.68,357.01L429.38,345.31M417.68,359.46L429.38,347.76M417.68,361.91L429.38,350.21M417.68,364.36L429.38,352.66M417.68,366.81L429.38,355.11M417.68,369.26L429.38,357.56M417.68,371.71L429.38,360.01M417.68,374.16L429.38,362.46M417.68,376.61L429.38,364.91M417.68,379.06L429.38,367.36M417.68,381.51L429.38,369.81M417.68,383.96L429.38,372.26M417.68,386.41L429.38,374.71M417.68,388.86L429.38,377.16M417.68,391.31L429.38,379.61" stroke="#5050ff" stroke-width="0.8" fill="none"/>
<rect x="418.68" y="321.71" width="9.70" height="58.89" fill="none" stroke="#1a1aff" stroke-width="1.2" />
<line x1="428.38" y1="380.60" x2="428.38" y2="383.10" stroke="#222" stroke-width="1" />
<text x="430.58" y="393.20" font-family='"Liberation Sans", sans-serif' font-size="9.8" font-weight="normal" font-style="normal" text-anchor="middle" fill="#111" stroke="#111" stroke-width="0.2">Ni<tspan font-size="6.2" dx="0.6" dy="-4.3">2+</tspan></text>
<rect x="453.94" y="373.14" width="10.00" height="7.46" fill="#fc9c9c" stroke="none" stroke-width="1" />
<clipPath id="c12"><rect x="444.24" y="298.48" width="9.70" height="82.12"/></clipPath>
<rect x="444.24" y="298.48" width="9.70" height="82.12" fill="#fff" stroke="none" stroke-width="1" />
<path clip-path="url(#c12)" d="M443.24,299.48L454.94,287.78M443.24,301.93L454.94,290.23M443.24,304.38L454.94,292.68M443.24,306.83L454.94,295.13M443.24,309.28L454.94,297.58M443.24,311.73L454.94,300.03M443.24,314.18L454.94,302.48M443.24,316.63L454.94,304.93M443.24,319.08L454.94,307.38M443.24,321.53L454.94,309.83M443.24,323.98L454.94,312.28M443.24,326.43L454.94,314.73M443.24,328.88L454.94,317.18M443.24,331.33L454.94,319.63M443.24,333.78L454.94,322.08M443.24,336.23L454.94,324.53M443.24,338.68L454.94,326.98M443.24,341.13L454.94,329.43M443.24,343.58L454.94,331.88M443.24,346.03L454.94,334.33M443.24,348.48L454.94,336.78M443.24,350.93L454.94,339.23M443.24,353.38L454.94,341.68M443.24,355.83L454.94,344.13M443.24,358.28L454.94,346.58M443.24,360.73L454.94,349.03M443.24,363.18L454.94,351.48M443.24,365.63L454.94,353.93M443.24,368.08L454.94,356.38M443.24,370.53L454.94,358.83M443.24,372.98L454.94,361.28M443.24,375.43L454.94,363.73M443.24,377.88L454.94,366.18M443.24,380.33L454.94,368.63M443.24,382.78L454.94,371.08M443.24,385.23L454.94,373.53M443.24,387.68L454.94,375.98M443.24,390.13L454.94,378.43M443.24,392.58L454.94,380.88" stroke="#5050ff" stroke-width="0.8" fill="none"/>
<rect x="444.24" y="298.48" width="9.70" height="82.12" fill="none" stroke="#1a1aff" stroke-width="1.2" />
<line x1="453.94" y1="380.60" x2="453.94" y2="383.10" stroke="#222" stroke-width="1" />
<text x="457.14" y="393.20" font-family='"Liberation Sans", sans-serif' font-size="9.8" font-weight="normal" font-style="normal" text-anchor="middle" fill="#111" stroke="#111" stroke-width="0.2">Zn<tspan font-size="6.2" dx="0.6" dy="-4.3">2+</tspan></text>
<rect x="479.50" y="297.04" width="10.00" height="83.56" fill="#fc9c9c" stroke="none" stroke-width="1" />
<clipPath id="c13"><rect x="469.80" y="228.99" width="9.70" height="151.61"/></clipPath>
<rect x="469.80" y="228.99" width="9.70" height="151.61" fill="#fff" stroke="none" stroke-width="1" />
<path clip-path="url(#c13)" d="M468.80,229.99L480.50,218.29M468.80,232.44L480.50,220.74M468.80,234.89L480.50,223.19M468.80,237.34L480.50,225.64M468.80,239.79L480.50,228.09M468.80,242.24L480.50,230.54M468.80,244.69L480.50,232.99M468.80,247.14L480.50,235.44M468.80,249.59L480.50,237.89M468.80,252.04L480.50,240.34M468.80,254.49L480.50,242.79M468.80,256.94L480.50,245.24M468.80,259.39L480.50,247.69M468.80,261.84L480.50,250.14M468.80,264.29L480.50,252.59M468.80,266.74L480.50,255.04M468.80,269.19L480.50,257.49M468.80,271.64L480.50,259.94M468.80,274.09L480.50,262.39M468.80,276.54L480.50,264.84M468.80,278.99L480.50,267.29M468.80,281.44L480.50,269.74M468.80,283.89L480.50,272.19M468.80,286.34L480.50,274.64M468.80,288.79L480.50,277.09M468.80,291.24L480.50,279.54M468.80,293.69L480.50,281.99M468.80,296.14L480.50,284.44M468.80,298.59L480.50,286.89M468.80,301.04L480.50,289.34M468.80,303.49L480.50,291.79M468.80,305.94L480.50,294.24M468.80,308.39L480.50,296.69M468.80,310.84L480.50,299.14M468.80,313.29L480.50,301.59M468.80,315.74L480.50,304.04M468.80,318.19L480.50,306.49M468.80,320.64L480.50,308.94M468.80,323.09L480.50,311.39M468.80,325.54L480.50,313.84M468.80,327.99L480.50,316.29M468.80,330.44L480.50,318.74M468.80,332.89L480.50,321.19M468.80,335.34L480.50,323.64M468.80,337.79L480.50,326.09M468.80,340.24L480.50,328.54M468.80,342.69L480.50,330.99M468.80,345.14L480.50,333.44M468.80,347.59L480.50,335.89M468.80,350.04L480.50,338.34M468.80,352.49L480.50,340.79M468.80,354.94L480.50,343.24M468.80,357.39L480.50,345.69M468.80,359.84L480.50,348.14M468.80,362.29L480.50,350.59M468.80,364.74L480.50,353.04M468.80,367.19L480.50,355.49M468.80,369.64L480.50,357.94M468.80,372.09L480.50,360.39M468.80,374.54L480.50,362.84M468.80,376.99L480.50,365.29M468.80,379.44L480.50,367.74M468.80,381.89L480.50,370.19M468.80,384.34L480.50,372.64M468.80,386.79L480.50,375.09M468.80,389.24L480.50,377.54M468.80,391.69L480.50,379.99" stroke="#5050ff" stroke-width="0.8" fill="none"/>
<rect x="469.80" y="228.99" width="9.70" height="151.61" fill="none" stroke="#1a1aff" stroke-width="1.2" />
<line x1="479.50" y1="380.60" x2="479.50" y2="383.10" stroke="#222" stroke-width="1" />
<text x="481.30" y="393.20" font-family='"Liberation Sans", sans-serif' font-size="9.8" font-weight="normal" font-style="normal" text-anchor="middle" fill="#111" stroke="#111" stroke-width="0.2">Cd<tspan font-size="6.2" dx="0.6" dy="-4.3">2+</tspan></text>
<rect x="505.06" y="211.78" width="10.00" height="168.82" fill="#fc9c9c" stroke="none" stroke-width="1" />
<clipPath id="c14"><rect x="495.36" y="211.19" width="9.70" height="169.41"/></clipPath>
<rect x="495.36" y="211.19" width="9.70" height="169.41" fill="#fff" stroke="none" stroke-width="1" />
<path clip-path="url(#c14)" d="M494.36,212.19L506.06,200.49M494.36,214.64L506.06,202.94M494.36,217.09L506.06,205.39M494.36,219.54L506.06,207.84M494.36,221.99L506.06,210.29M494.36,224.44L506.06,212.74M494.36,226.89L506.06,215.19M494.36,229.34L506.06,217.64M494.36,231.79L506.06,220.09M494.36,234.24L506.06,222.54M494.36,236.69L506.06,224.99M494.36,239.14L506.06,227.44M494.36,241.59L506.06,229.89M494.36,244.04L506.06,232.34M494.36,246.49L506.06,234.79M494.36,248.94L506.06,237.24M494.36,251.39L506.06,239.69M494.36,253.84L506.06,242.14M494.36,256.29L506.06,244.59M494.36,258.74L506.06,247.04M494.36,261.19L506.06,249.49M494.36,263.64L506.06,251.94M494.36,266.09L506.06,254.39M494.36,268.54L506.06,256.84M494.36,270.99L506.06,259.29M494.36,273.44L506.06,261.74M494.36,275.89L506.06,264.19M494.36,278.34L506.06,266.64M494.36,280.79L506.06,269.09M494.36,283.24L506.06,271.54M494.36,285.69L506.06,273.99M494.36,288.14L506.06,276.44M494.36,290.59L506.06,278.89M494.36,293.04L506.06,281.34M494.36,295.49L506.06,283.79M494.36,297.94L506.06,286.24M494.36,300.39L506.06,288.69M494.36,302.84L506.06,291.14M494.36,305.29L506.06,293.59M494.36,307.74L506.06,296.04M494.36,310.19L506.06,298.49M494.36,312.64L506.06,300.94M494.36,315.09L506.06,303.39M494.36,317.54L506.06,305.84M494.36,319.99L506.06,308.29M494.36,322.44L506.06,310.74M494.36,324.89L506.06,313.19M494.36,327.34L506.06,315.64M494.36,329.79L506.06,318.09M494.36,332.24L506.06,320.54M494.36,334.69L506.06,322.99M494.36,337.14L506.06,325.44M494.36,339.59L506.06,327.89M494.36,342.04L506.06,330.34M494.36,344.49L506.06,332.79M494.36,346.94L506.06,335.24M494.36,349.39L506.06,337.69M494.36,351.84L506.06,340.14M494.36,354.29L506.06,342.59M494.36,356.74L506.06,345.04M494.36,359.19L506.06,347.49M494.36,361.64L506.06,349.94M494.36,364.09L506.06,352.39M494.36,366.54L506.06,354.84M494.36,368.99L506.06,357.29M494.36,371.44L506.06,359.74M494.36,373.89L506.06,362.19M494.36,376.34L506.06,364.64M494.36,378.79L506.06,367.09M494.36,381.24L506.06,369.54M494.36,383.69L506.06,371.99M494.36,386.14L506.06,374.44M494.36,388.59L506.06,376.89M494.36,391.04L506.06,379.34M494.36,393.49L506.06,381.79" stroke="#5050ff" stroke-width="0.8" fill="none"/>
<rect x="495.36" y="211.19" width="9.70" height="169.41" fill="none" stroke="#1a1aff" stroke-width="1.2" />
<line x1="505.06" y1="380.60" x2="505.06" y2="383.10" stroke="#222" stroke-width="1" />
<text x="509.26" y="393.20" font-family='"Liberation Sans", sans-serif' font-size="9.8" font-weight="normal" font-style="normal" text-anchor="middle" fill="#111" stroke="#111" stroke-width="0.2">Cu<tspan font-size="6.2" dx="0.6" dy="-4.3">2+</tspan></text>
<rect x="530.62" y="211.10" width="10.00" height="169.50" fill="#fc9c9c" stroke="none" stroke-width="1" />
<clipPath id="c15"><rect x="520.92" y="211.19" width="9.70" height="169.41"/></clipPath>
<rect x="520.92" y="211.19" width="9.70" height="169.41" fill="#fff" stroke="none" stroke-width="1" />
<path clip-path="url(#c15)" d="M519.92,212.19L531.62,200.49M519.92,214.64L531.62,202.94M519.92,217.09L531.62,205.39M519.92,219.54L531.62,207.84M519.92,221.99L531.62,210.29M519.92,224.44L531.62,212.74M519.92,226.89L531.62,215.19M519.92,229.34L531.62,217.64M519.92,231.79L531.62,220.09M519.92,234.24L531.62,222.54M519.92,236.69L531.62,224.99M519.92,239.14L531.62,227.44M519.92,241.59L531.62,229.89M519.92,244.04L531.62,232.34M519.92,246.49L531.62,234.79M519.92,248.94L531.62,237.24M519.92,251.39L531.62,239.69M519.92,253.84L531.62,242.14M519.92,256.29L531.62,244.59M519.92,258.74L531.62,247.04M519.92,261.19L531.62,249.49M519.92,263.64L531.62,251.94M519.92,266.09L531.62,254.39M519.92,268.54L531.62,256.84M519.92,270.99L531.62,259.29M519.92,273.44L531.62,261.74M519.92,275.89L531.62,264.19M519.92,278.34L531.62,266.64M519.92,280.79L531.62,269.09M519.92,283.24L531.62,271.54M519.92,285.69L531.62,273.99M519.92,288.14L531.62,276.44M519.92,290.59L531.62,278.89M519.92,293.04L531.62,281.34M519.92,295.49L531.62,283.79M519.92,297.94L531.62,286.24M519.92,300.39L531.62,288.69M519.92,302.84L531.62,291.14M519.92,305.29L531.62,293.59M519.92,307.74L531.62,296.04M519.92,310.19L531.62,298.49M519.92,312.64L531.62,300.94M519.92,315.09L531.62,303.39M519.92,317.54L531.62,305.84M519.92,319.99L531.62,308.29M519.92,322.44L531.62,310.74M519.92,324.89L531.62,313.19M519.92,327.34L531.62,315.64M519.92,329.79L531.62,318.09M519.92,332.24L531.62,320.54M519.92,334.69L531.62,322.99M519.92,337.14L531.62,325.44M519.92,339.59L531.62,327.89M519.92,342.04L531.62,330.34M519.92,344.49L531.62,332.79M519.92,346.94L531.62,335.24M519.92,349.39L531.62,337.69M519.92,351.84L531.62,340.14M519.92,354.29L531.62,342.59M519.92,356.74L531.62,345.04M519.92,359.19L531.62,347.49M519.92,361.64L531.62,349.94M519.92,364.09L531.62,352.39M519.92,366.54L531.62,354.84M519.92,368.99L531.62,357.29M519.92,371.44L531.62,359.74M519.92,373.89L531.62,362.19M519.92,376.34L531.62,364.64M519.92,378.79L531.62,367.09M519.92,381.24L531.62,369.54M519.92,383.69L531.62,371.99M519.92,386.14L531.62,374.44M519.92,388.59L531.62,376.89M519.92,391.04L531.62,379.34M519.92,393.49L531.62,381.79" stroke="#5050ff" stroke-width="0.8" fill="none"/>
<rect x="520.92" y="211.19" width="9.70" height="169.41" fill="none" stroke="#1a1aff" stroke-width="1.2" />
<line x1="530.62" y1="380.60" x2="530.62" y2="383.10" stroke="#222" stroke-width="1" />
<text x="534.82" y="393.20" font-family='"Liberation Sans", sans-serif' font-size="9.8" font-weight="normal" font-style="normal" text-anchor="middle" fill="#111" stroke="#111" stroke-width="0.2">Pb<tspan font-size="6.2" dx="0.6" dy="-4.3">2+</tspan></text>
<rect x="338.90" y="207.60" width="204.30" height="173.00" fill="none" stroke="#111" stroke-width="1.3" />
<line x1="334.90" y1="380.60" x2="338.90" y2="380.60" stroke="#222" stroke-width="1" />
<text x="333.30" y="383.10" font-family='"Liberation Sans", sans-serif' font-size="9.3" font-weight="normal" font-style="normal" text-anchor="end" fill="#111" stroke="#111" stroke-width="0.2">0</text>
<line x1="336.90" y1="363.65" x2="338.90" y2="363.65" stroke="#222" stroke-width="1" />
<line x1="334.90" y1="346.70" x2="338.90" y2="346.70" stroke="#222" stroke-width="1" />
<text x="333.30" y="349.20" font-family='"Liberation Sans", sans-serif' font-size="9.3" font-weight="normal" font-style="normal" text-anchor="end" fill="#111" stroke="#111" stroke-width="0.2">20</text>
<line x1="336.90" y1="329.75" x2="338.90" y2="329.75" stroke="#222" stroke-width="1" />
<line x1="334.90" y1="312.80" x2="338.90" y2="312.80" stroke="#222" stroke-width="1" />
<text x="333.30" y="315.30" font-family='"Liberation Sans", sans-serif' font-size="9.3" font-weight="normal" font-style="normal" text-anchor="end" fill="#111" stroke="#111" stroke-width="0.2">40</text>
<line x1="336.90" y1="295.85" x2="338.90" y2="295.85" stroke="#222" stroke-width="1" />
<line x1="334.90" y1="278.90" x2="338.90" y2="278.90" stroke="#222" stroke-width="1" />
<text x="333.30" y="281.40" font-family='"Liberation Sans", sans-serif' font-size="9.3" font-weight="normal" font-style="normal" text-anchor="end" fill="#111" stroke="#111" stroke-width="0.2">60</text>
<line x1="336.90" y1="261.95" x2="338.90" y2="261.95" stroke="#222" stroke-width="1" />
<line x1="334.90" y1="245.00" x2="338.90" y2="245.00" stroke="#222" stroke-width="1" />
<text x="333.30" y="247.50" font-family='"Liberation Sans", sans-serif' font-size="9.3" font-weight="normal" font-style="normal" text-anchor="end" fill="#111" stroke="#111" stroke-width="0.2">80</text>
<line x1="336.90" y1="228.05" x2="338.90" y2="228.05" stroke="#222" stroke-width="1" />
<line x1="334.90" y1="211.10" x2="338.90" y2="211.10" stroke="#222" stroke-width="1" />
<text x="333.30" y="213.60" font-family='"Liberation Sans", sans-serif' font-size="9.3" font-weight="normal" font-style="normal" text-anchor="end" fill="#111" stroke="#111" stroke-width="0.2">100</text>
<g transform="translate(311.9,302.0) rotate(-90)">
<text x="0.00" y="0.00" font-family='"Liberation Sans", sans-serif' font-size="12.4" font-weight="normal" font-style="normal" text-anchor="middle" fill="#111" stroke="#111" stroke-width="0.2">Removal (%)</text>
</g>
<clipPath id="c16"><rect x="345.70" y="212.40" width="10.60" height="11.90"/></clipPath>
<rect x="345.70" y="212.40" width="10.60" height="11.90" fill="#fff" stroke="none" stroke-width="1" />
<path clip-path="url(#c16)" d="M344.70,213.40L357.30,200.80M344.70,216.00L357.30,203.40M344.70,218.60L357.30,206.00M344.70,221.20L357.30,208.60M344.70,223.80L357.30,211.20M344.70,226.40L357.30,213.80M344.70,229.00L357.30,216.40M344.70,231.60L357.30,219.00M344.70,234.20L357.30,221.60M344.70,236.80L357.30,224.20" stroke="#4a4aff" stroke-width="0.9" fill="none"/>
<rect x="345.70" y="212.40" width="10.60" height="11.90" fill="none" stroke="#1a1aff" stroke-width="1.2" />
<rect x="345.60" y="230.50" width="11.00" height="12.30" fill="#fdaaaa" stroke="#fb8c8c" stroke-width="1.0" />
<text x="360.00" y="224.20" font-family='"Liberation Sans", sans-serif' font-size="11.85" font-weight="normal" font-style="normal" text-anchor="start" fill="#111" stroke="#111" stroke-width="0.2">Individual ion solution</text>
<text x="360.00" y="242.50" font-family='"Liberation Sans", sans-serif' font-size="11.85" font-weight="normal" font-style="normal" text-anchor="start" fill="#111" stroke="#111" stroke-width="0.2">Ion-mixture</text>
<text x="4.20" y="412.00" font-family='"Liberation Serif", serif' font-size="19.8" font-weight="normal" font-style="normal" text-anchor="start" fill="#000" >(e)</text>
<rect x="52.80" y="430.65" width="10.50" height="140.85" fill="#0a679d" stroke="none" stroke-width="1" />
<clipPath id="c17"><rect x="63.30" y="454.79" width="10.30" height="116.71"/></clipPath>
<rect x="63.30" y="454.79" width="10.30" height="116.71" fill="#aaaadd" stroke="none" stroke-width="1" />
<path clip-path="url(#c17)" d="M62.30,455.79L74.60,443.49M62.30,460.59L74.60,448.29M62.30,465.39L74.60,453.09M62.30,470.19L74.60,457.89M62.30,474.99L74.60,462.69M62.30,479.79L74.60,467.49M62.30,484.59L74.60,472.29M62.30,489.39L74.60,477.09M62.30,494.19L74.60,481.89M62.30,498.99L74.60,486.69M62.30,503.79L74.60,491.49M62.30,508.59L74.60,496.29M62.30,513.39L74.60,501.09M62.30,518.19L74.60,505.89M62.30,522.99L74.60,510.69M62.30,527.79L74.60,515.49M62.30,532.59L74.60,520.29M62.30,537.39L74.60,525.09M62.30,542.19L74.60,529.89M62.30,546.99L74.60,534.69M62.30,551.79L74.60,539.49M62.30,556.59L74.60,544.29M62.30,561.39L74.60,549.09M62.30,566.19L74.60,553.89M62.30,570.99L74.60,558.69M62.30,575.79L74.60,563.49M62.30,580.59L74.60,568.29M62.30,585.39L74.60,573.09" stroke="#8a8ac6" stroke-width="1.1" fill="none"/>
<rect x="63.50" y="454.79" width="10.10" height="116.71" fill="none" stroke="#77779a" stroke-width="0.6" />
<line x1="58.05" y1="423.80" x2="58.05" y2="437.50" stroke="#333" stroke-width="0.8" />
<line x1="56.45" y1="423.80" x2="59.65" y2="423.80" stroke="#333" stroke-width="0.8" />
<line x1="56.45" y1="437.50" x2="59.65" y2="437.50" stroke="#333" stroke-width="0.8" />
<line x1="68.45" y1="448.75" x2="68.45" y2="460.84" stroke="#ff5a5a" stroke-width="0.8" />
<line x1="66.85" y1="448.75" x2="70.05" y2="448.75" stroke="#ff5a5a" stroke-width="0.8" />
<line x1="66.85" y1="460.84" x2="70.05" y2="460.84" stroke="#ff5a5a" stroke-width="0.8" />
<line x1="63.30" y1="571.50" x2="63.30" y2="574.00" stroke="#222" stroke-width="0.9" />
<text x="62.50" y="581.70" font-family='"Liberation Serif", serif' font-size="6.8" font-weight="bold" font-style="normal" text-anchor="middle" fill="#111" stroke="#111" stroke-width="0.15">0</text>
<rect x="87.28" y="431.46" width="10.50" height="140.04" fill="#0a679d" stroke="none" stroke-width="1" />
<clipPath id="c18"><rect x="97.78" y="454.79" width="10.30" height="116.71"/></clipPath>
<rect x="97.78" y="454.79" width="10.30" height="116.71" fill="#aaaadd" stroke="none" stroke-width="1" />
<path clip-path="url(#c18)" d="M96.78,455.79L109.08,443.49M96.78,460.59L109.08,448.29M96.78,465.39L109.08,453.09M96.78,470.19L109.08,457.89M96.78,474.99L109.08,462.69M96.78,479.79L109.08,467.49M96.78,484.59L109.08,472.29M96.78,489.39L109.08,477.09M96.78,494.19L109.08,481.89M96.78,498.99L109.08,486.69M96.78,503.79L109.08,491.49M96.78,508.59L109.08,496.29M96.78,513.39L109.08,501.09M96.78,518.19L109.08,505.89M96.78,522.99L109.08,510.69M96.78,527.79L109.08,515.49M96.78,532.59L109.08,520.29M96.78,537.39L109.08,525.09M96.78,542.19L109.08,529.89M96.78,546.99L109.08,534.69M96.78,551.79L109.08,539.49M96.78,556.59L109.08,544.29M96.78,561.39L109.08,549.09M96.78,566.19L109.08,553.89M96.78,570.99L109.08,558.69M96.78,575.79L109.08,563.49M96.78,580.59L109.08,568.29M96.78,585.39L109.08,573.09" stroke="#8a8ac6" stroke-width="1.1" fill="none"/>
<rect x="97.98" y="454.79" width="10.10" height="116.71" fill="none" stroke="#77779a" stroke-width="0.6" />
<line x1="92.53" y1="424.61" x2="92.53" y2="438.31" stroke="#333" stroke-width="0.8" />
<line x1="90.93" y1="424.61" x2="94.13" y2="424.61" stroke="#333" stroke-width="0.8" />
<line x1="90.93" y1="438.31" x2="94.13" y2="438.31" stroke="#333" stroke-width="0.8" />
<line x1="102.93" y1="448.75" x2="102.93" y2="460.84" stroke="#ff5a5a" stroke-width="0.8" />
<line x1="101.33" y1="448.75" x2="104.53" y2="448.75" stroke="#ff5a5a" stroke-width="0.8" />
<line x1="101.33" y1="460.84" x2="104.53" y2="460.84" stroke="#ff5a5a" stroke-width="0.8" />
<line x1="97.78" y1="571.50" x2="97.78" y2="574.00" stroke="#222" stroke-width="0.9" />
<text x="96.98" y="581.70" font-family='"Liberation Serif", serif' font-size="6.8" font-weight="bold" font-style="normal" text-anchor="middle" fill="#111" stroke="#111" stroke-width="0.15">0.001</text>
<rect x="121.76" y="432.26" width="10.50" height="139.24" fill="#0a679d" stroke="none" stroke-width="1" />
<clipPath id="c19"><rect x="132.26" y="458.74" width="10.30" height="112.76"/></clipPath>
<rect x="132.26" y="458.74" width="10.30" height="112.76" fill="#aaaadd" stroke="none" stroke-width="1" />
<path clip-path="url(#c19)" d="M131.26,459.74L143.56,447.44M131.26,464.54L143.56,452.24M131.26,469.34L143.56,457.04M131.26,474.14L143.56,461.84M131.26,478.94L143.56,466.64M131.26,483.74L143.56,471.44M131.26,488.54L143.56,476.24M131.26,493.34L143.56,481.04M131.26,498.14L143.56,485.84M131.26,502.94L143.56,490.64M131.26,507.74L143.56,495.44M131.26,512.54L143.56,500.24M131.26,517.34L143.56,505.04M131.26,522.14L143.56,509.84M131.26,526.94L143.56,514.64M131.26,531.74L143.56,519.44M131.26,536.54L143.56,524.24M131.26,541.34L143.56,529.04M131.26,546.14L143.56,533.84M131.26,550.94L143.56,538.64M131.26,555.74L143.56,543.44M131.26,560.54L143.56,548.24M131.26,565.34L143.56,553.04M131.26,570.14L143.56,557.84M131.26,574.94L143.56,562.64M131.26,579.74L143.56,567.44M131.26,584.54L143.56,572.24" stroke="#8a8ac6" stroke-width="1.1" fill="none"/>
<rect x="132.46" y="458.74" width="10.10" height="112.76" fill="none" stroke="#77779a" stroke-width="0.6" />
<line x1="127.01" y1="425.41" x2="127.01" y2="439.11" stroke="#333" stroke-width="0.8" />
<line x1="125.41" y1="425.41" x2="128.61" y2="425.41" stroke="#333" stroke-width="0.8" />
<line x1="125.41" y1="439.11" x2="128.61" y2="439.11" stroke="#333" stroke-width="0.8" />
<line x1="137.41" y1="453.10" x2="137.41" y2="464.38" stroke="#ff5a5a" stroke-width="0.8" />
<line x1="135.81" y1="453.10" x2="139.01" y2="453.10" stroke="#ff5a5a" stroke-width="0.8" />
<line x1="135.81" y1="464.38" x2="139.01" y2="464.38" stroke="#ff5a5a" stroke-width="0.8" />
<line x1="132.26" y1="571.50" x2="132.26" y2="574.00" stroke="#222" stroke-width="0.9" />
<text x="131.46" y="581.70" font-family='"Liberation Serif", serif' font-size="6.8" font-weight="bold" font-style="normal" text-anchor="middle" fill="#111" stroke="#111" stroke-width="0.15">0.005</text>
<rect x="156.24" y="430.85" width="10.50" height="140.65" fill="#0a679d" stroke="none" stroke-width="1" />
<clipPath id="c20"><rect x="166.74" y="459.67" width="10.30" height="111.83"/></clipPath>
<rect x="166.74" y="459.67" width="10.30" height="111.83" fill="#aaaadd" stroke="none" stroke-width="1" />
<path clip-path="url(#c20)" d="M165.74,460.67L178.04,448.37M165.74,465.47L178.04,453.17M165.74,470.27L178.04,457.97M165.74,475.07L178.04,462.77M165.74,479.87L178.04,467.57M165.74,484.67L178.04,472.37M165.74,489.47L178.04,477.17M165.74,494.27L178.04,481.97M165.74,499.07L178.04,486.77M165.74,503.87L178.04,491.57M165.74,508.67L178.04,496.37M165.74,513.47L178.04,501.17M165.74,518.27L178.04,505.97M165.74,523.07L178.04,510.77M165.74,527.87L178.04,515.57M165.74,532.67L178.04,520.37M165.74,537.47L178.04,525.17M165.74,542.27L178.04,529.97M165.74,547.07L178.04,534.77M165.74,551.87L178.04,539.57M165.74,556.67L178.04,544.37M165.74,561.47L178.04,549.17M165.74,566.27L178.04,553.97M165.74,571.07L178.04,558.77M165.74,575.87L178.04,563.57M165.74,580.67L178.04,568.37M165.74,585.47L178.04,573.17" stroke="#8a8ac6" stroke-width="1.1" fill="none"/>
<rect x="166.94" y="459.67" width="10.10" height="111.83" fill="none" stroke="#77779a" stroke-width="0.6" />
<line x1="161.49" y1="424.00" x2="161.49" y2="437.70" stroke="#333" stroke-width="0.8" />
<line x1="159.89" y1="424.00" x2="163.09" y2="424.00" stroke="#333" stroke-width="0.8" />
<line x1="159.89" y1="437.70" x2="163.09" y2="437.70" stroke="#333" stroke-width="0.8" />
<line x1="171.89" y1="454.03" x2="171.89" y2="465.31" stroke="#ff5a5a" stroke-width="0.8" />
<line x1="170.29" y1="454.03" x2="173.49" y2="454.03" stroke="#ff5a5a" stroke-width="0.8" />
<line x1="170.29" y1="465.31" x2="173.49" y2="465.31" stroke="#ff5a5a" stroke-width="0.8" />
<line x1="166.74" y1="571.50" x2="166.74" y2="574.00" stroke="#222" stroke-width="0.9" />
<text x="165.94" y="581.70" font-family='"Liberation Serif", serif' font-size="6.8" font-weight="bold" font-style="normal" text-anchor="middle" fill="#111" stroke="#111" stroke-width="0.15">0.01</text>
<rect x="190.72" y="430.85" width="10.50" height="140.65" fill="#0a679d" stroke="none" stroke-width="1" />
<clipPath id="c21"><rect x="201.22" y="461.48" width="10.30" height="110.02"/></clipPath>
<rect x="201.22" y="461.48" width="10.30" height="110.02" fill="#aaaadd" stroke="none" stroke-width="1" />
<path clip-path="url(#c21)" d="M200.22,462.48L212.52,450.18M200.22,467.28L212.52,454.98M200.22,472.08L212.52,459.78M200.22,476.88L212.52,464.58M200.22,481.68L212.52,469.38M200.22,486.48L212.52,474.18M200.22,491.28L212.52,478.98M200.22,496.08L212.52,483.78M200.22,500.88L212.52,488.58M200.22,505.68L212.52,493.38M200.22,510.48L212.52,498.18M200.22,515.28L212.52,502.98M200.22,520.08L212.52,507.78M200.22,524.88L212.52,512.58M200.22,529.68L212.52,517.38M200.22,534.48L212.52,522.18M200.22,539.28L212.52,526.98M200.22,544.08L212.52,531.78M200.22,548.88L212.52,536.58M200.22,553.68L212.52,541.38M200.22,558.48L212.52,546.18M200.22,563.28L212.52,550.98M200.22,568.08L212.52,555.78M200.22,572.88L212.52,560.58M200.22,577.68L212.52,565.38M200.22,582.48L212.52,570.18M200.22,587.28L212.52,574.98" stroke="#8a8ac6" stroke-width="1.1" fill="none"/>
<rect x="201.42" y="461.48" width="10.10" height="110.02" fill="none" stroke="#77779a" stroke-width="0.6" />
<line x1="195.97" y1="424.00" x2="195.97" y2="437.70" stroke="#333" stroke-width="0.8" />
<line x1="194.37" y1="424.00" x2="197.57" y2="424.00" stroke="#333" stroke-width="0.8" />
<line x1="194.37" y1="437.70" x2="197.57" y2="437.70" stroke="#333" stroke-width="0.8" />
<line x1="206.37" y1="455.84" x2="206.37" y2="467.12" stroke="#ff5a5a" stroke-width="0.8" />
<line x1="204.77" y1="455.84" x2="207.97" y2="455.84" stroke="#ff5a5a" stroke-width="0.8" />
<line x1="204.77" y1="467.12" x2="207.97" y2="467.12" stroke="#ff5a5a" stroke-width="0.8" />
<line x1="201.22" y1="571.50" x2="201.22" y2="574.00" stroke="#222" stroke-width="0.9" />
<text x="200.42" y="581.70" font-family='"Liberation Serif", serif' font-size="6.8" font-weight="bold" font-style="normal" text-anchor="middle" fill="#111" stroke="#111" stroke-width="0.15">0.1</text>
<rect x="225.20" y="430.65" width="10.50" height="140.85" fill="#0a679d" stroke="none" stroke-width="1" />
<clipPath id="c22"><rect x="235.70" y="462.97" width="10.30" height="108.53"/></clipPath>
<rect x="235.70" y="462.97" width="10.30" height="108.53" fill="#aaaadd" stroke="none" stroke-width="1" />
<path clip-path="url(#c22)" d="M234.70,463.97L247.00,451.67M234.70,468.77L247.00,456.47M234.70,473.57L247.00,461.27M234.70,478.37L247.00,466.07M234.70,483.17L247.00,470.87M234.70,487.97L247.00,475.67M234.70,492.77L247.00,480.47M234.70,497.57L247.00,485.27M234.70,502.37L247.00,490.07M234.70,507.17L247.00,494.87M234.70,511.97L247.00,499.67M234.70,516.77L247.00,504.47M234.70,521.57L247.00,509.27M234.70,526.37L247.00,514.07M234.70,531.17L247.00,518.87M234.70,535.97L247.00,523.67M234.70,540.77L247.00,528.47M234.70,545.57L247.00,533.27M234.70,550.37L247.00,538.07M234.70,555.17L247.00,542.87M234.70,559.97L247.00,547.67M234.70,564.77L247.00,552.47M234.70,569.57L247.00,557.27M234.70,574.37L247.00,562.07M234.70,579.17L247.00,566.87M234.70,583.97L247.00,571.67" stroke="#8a8ac6" stroke-width="1.1" fill="none"/>
<rect x="235.90" y="462.97" width="10.10" height="108.53" fill="none" stroke="#77779a" stroke-width="0.6" />
<line x1="230.45" y1="423.80" x2="230.45" y2="437.50" stroke="#333" stroke-width="0.8" />
<line x1="228.85" y1="423.80" x2="232.05" y2="423.80" stroke="#333" stroke-width="0.8" />
<line x1="228.85" y1="437.50" x2="232.05" y2="437.50" stroke="#333" stroke-width="0.8" />
<line x1="240.85" y1="457.73" x2="240.85" y2="468.21" stroke="#ff5a5a" stroke-width="0.8" />
<line x1="239.25" y1="457.73" x2="242.45" y2="457.73" stroke="#ff5a5a" stroke-width="0.8" />
<line x1="239.25" y1="468.21" x2="242.45" y2="468.21" stroke="#ff5a5a" stroke-width="0.8" />
<line x1="235.70" y1="571.50" x2="235.70" y2="574.00" stroke="#222" stroke-width="0.9" />
<text x="234.90" y="581.70" font-family='"Liberation Serif", serif' font-size="6.8" font-weight="bold" font-style="normal" text-anchor="middle" fill="#111" stroke="#111" stroke-width="0.15">0.5</text>
<rect x="42.40" y="410.30" width="214.10" height="161.20" fill="none" stroke="#222" stroke-width="1.1" />
<line x1="38.90" y1="571.50" x2="42.40" y2="571.50" stroke="#222" stroke-width="0.9" />
<text x="36.30" y="573.80" font-family='"Liberation Serif", serif' font-size="6.6" font-weight="bold" font-style="normal" text-anchor="end" fill="#111" stroke="#111" stroke-width="0.15">0</text>
<line x1="40.60" y1="561.42" x2="42.40" y2="561.42" stroke="#222" stroke-width="0.9" />
<line x1="38.90" y1="551.35" x2="42.40" y2="551.35" stroke="#222" stroke-width="0.9" />
<text x="36.30" y="553.65" font-family='"Liberation Serif", serif' font-size="6.6" font-weight="bold" font-style="normal" text-anchor="end" fill="#111" stroke="#111" stroke-width="0.15">50</text>
<line x1="40.60" y1="541.27" x2="42.40" y2="541.27" stroke="#222" stroke-width="0.9" />
<line x1="38.90" y1="531.20" x2="42.40" y2="531.20" stroke="#222" stroke-width="0.9" />
<text x="36.30" y="533.50" font-family='"Liberation Serif", serif' font-size="6.6" font-weight="bold" font-style="normal" text-anchor="end" fill="#111" stroke="#111" stroke-width="0.15">100</text>
<line x1="40.60" y1="521.12" x2="42.40" y2="521.12" stroke="#222" stroke-width="0.9" />
<line x1="38.90" y1="511.05" x2="42.40" y2="511.05" stroke="#222" stroke-width="0.9" />
<text x="36.30" y="513.35" font-family='"Liberation Serif", serif' font-size="6.6" font-weight="bold" font-style="normal" text-anchor="end" fill="#111" stroke="#111" stroke-width="0.15">150</text>
<line x1="40.60" y1="500.98" x2="42.40" y2="500.98" stroke="#222" stroke-width="0.9" />
<line x1="38.90" y1="490.90" x2="42.40" y2="490.90" stroke="#222" stroke-width="0.9" />
<text x="36.30" y="493.20" font-family='"Liberation Serif", serif' font-size="6.6" font-weight="bold" font-style="normal" text-anchor="end" fill="#111" stroke="#111" stroke-width="0.15">200</text>
<line x1="40.60" y1="480.82" x2="42.40" y2="480.82" stroke="#222" stroke-width="0.9" />
<line x1="38.90" y1="470.75" x2="42.40" y2="470.75" stroke="#222" stroke-width="0.9" />
<text x="36.30" y="473.05" font-family='"Liberation Serif", serif' font-size="6.6" font-weight="bold" font-style="normal" text-anchor="end" fill="#111" stroke="#111" stroke-width="0.15">250</text>
<line x1="40.60" y1="460.68" x2="42.40" y2="460.68" stroke="#222" stroke-width="0.9" />
<line x1="38.90" y1="450.60" x2="42.40" y2="450.60" stroke="#222" stroke-width="0.9" />
<text x="36.30" y="452.90" font-family='"Liberation Serif", serif' font-size="6.6" font-weight="bold" font-style="normal" text-anchor="end" fill="#111" stroke="#111" stroke-width="0.15">300</text>
<line x1="40.60" y1="440.52" x2="42.40" y2="440.52" stroke="#222" stroke-width="0.9" />
<line x1="38.90" y1="430.45" x2="42.40" y2="430.45" stroke="#222" stroke-width="0.9" />
<text x="36.30" y="432.75" font-family='"Liberation Serif", serif' font-size="6.6" font-weight="bold" font-style="normal" text-anchor="end" fill="#111" stroke="#111" stroke-width="0.15">350</text>
<line x1="40.60" y1="420.38" x2="42.40" y2="420.38" stroke="#222" stroke-width="0.9" />
<line x1="38.90" y1="410.30" x2="42.40" y2="410.30" stroke="#222" stroke-width="0.9" />
<text x="36.30" y="412.60" font-family='"Liberation Serif", serif' font-size="6.6" font-weight="bold" font-style="normal" text-anchor="end" fill="#111" stroke="#111" stroke-width="0.15">400</text>
<g transform="translate(21.2,491) rotate(-90)">
<text x="0.00" y="0.00" font-family='"Liberation Serif", serif' font-size="8" font-weight="bold" font-style="normal" text-anchor="middle" fill="#111" stroke="#111" stroke-width="0.15">q<tspan font-size="5.5" dy="1.5">e</tspan><tspan dy="-1.5"> (mg/g)</tspan></text>
</g>
<text x="149.30" y="592.60" font-family='"Liberation Serif", serif' font-size="9.05" font-weight="bold" font-style="normal" text-anchor="middle" fill="#111" >NaNO<tspan font-size="6" dy="2">3</tspan><tspan dy="-2"> concentration (mol/L)</tspan></text>
<rect x="154.00" y="413.20" width="17.00" height="7.30" fill="#0a679d" stroke="none" stroke-width="1" />
<clipPath id="c23"><rect x="203.40" y="413.20" width="16.30" height="7.30"/></clipPath>
<rect x="203.40" y="413.20" width="16.30" height="7.30" fill="#aaaadd" stroke="none" stroke-width="1" />
<path clip-path="url(#c23)" d="M202.40,414.20L220.70,395.90M202.40,419.00L220.70,400.70M202.40,423.80L220.70,405.50M202.40,428.60L220.70,410.30M202.40,433.40L220.70,415.10M202.40,438.20L220.70,419.90" stroke="#8a8ac6" stroke-width="1.1" fill="none"/>
<rect x="203.40" y="413.20" width="16.30" height="7.30" fill="none" stroke="#7a7ab0" stroke-width="0.5" />
<text x="175.50" y="419.80" font-family='"Liberation Serif", serif' font-size="8" font-weight="bold" font-style="normal" text-anchor="start" fill="#111" >Pb<tspan font-size="5.6" dy="-3.6">2+</tspan></text>
<text x="224.70" y="419.80" font-family='"Liberation Serif", serif' font-size="8" font-weight="bold" font-style="normal" text-anchor="start" fill="#111" >Cu<tspan font-size="5.6" dy="-3.6">2+</tspan></text>
<text x="287.90" y="414.70" font-family='"Liberation Serif", serif' font-size="19.5" font-weight="normal" font-style="normal" text-anchor="start" fill="#000" >(f)</text>
<polyline points="341.10,444.85 344.77,454.91 359.45,457.42 377.80,462.68 524.60,466.56" fill="none" stroke="#333" stroke-width="0.9"/>
<polyline points="341.10,483.47 344.77,470.67 359.45,469.76 377.80,474.56 524.60,475.93" fill="none" stroke="#222" stroke-width="1.1"/>
<path d="M341.10,442.33 L343.52,446.74 L338.69,446.74Z" fill="#fff" stroke="#222" stroke-width="0.8"/>
<path d="M344.77,452.39 L347.19,456.80 L342.36,456.80Z" fill="#fff" stroke="#222" stroke-width="0.8"/>
<path d="M359.45,454.90 L361.87,459.31 L357.04,459.31Z" fill="#fff" stroke="#222" stroke-width="0.8"/>
<path d="M377.80,460.16 L380.22,464.57 L375.38,464.57Z" fill="#fff" stroke="#222" stroke-width="0.8"/>
<path d="M524.60,464.04 L527.01,468.45 L522.19,468.45Z" fill="#fff" stroke="#222" stroke-width="0.8"/>
<circle cx="341.10" cy="483.47" r="2.35" fill="#000"/>
<circle cx="344.77" cy="470.67" r="2.35" fill="#000"/>
<circle cx="359.45" cy="469.76" r="2.35" fill="#000"/>
<circle cx="377.80" cy="474.56" r="2.35" fill="#000"/>
<circle cx="524.60" cy="475.93" r="2.35" fill="#000"/>
<rect x="322.50" y="407.50" width="220.50" height="159.60" fill="none" stroke="#555" stroke-width="1.2" />
<line x1="319.00" y1="567.10" x2="322.50" y2="567.10" stroke="#555" stroke-width="0.9" />
<text x="317.20" y="569.60" font-family='"Liberation Serif", serif' font-size="7.2" font-weight="normal" font-style="normal" text-anchor="end" fill="#333" >0</text>
<line x1="320.70" y1="544.25" x2="322.50" y2="544.25" stroke="#555" stroke-width="0.9" />
<line x1="319.00" y1="521.40" x2="322.50" y2="521.40" stroke="#555" stroke-width="0.9" />
<text x="317.20" y="523.90" font-family='"Liberation Serif", serif' font-size="7.2" font-weight="normal" font-style="normal" text-anchor="end" fill="#333" >2</text>
<line x1="320.70" y1="498.55" x2="322.50" y2="498.55" stroke="#555" stroke-width="0.9" />
<line x1="319.00" y1="475.70" x2="322.50" y2="475.70" stroke="#555" stroke-width="0.9" />
<text x="317.20" y="478.20" font-family='"Liberation Serif", serif' font-size="7.2" font-weight="normal" font-style="normal" text-anchor="end" fill="#333" >4</text>
<line x1="320.70" y1="452.85" x2="322.50" y2="452.85" stroke="#555" stroke-width="0.9" />
<line x1="319.00" y1="430.00" x2="322.50" y2="430.00" stroke="#555" stroke-width="0.9" />
<text x="317.20" y="432.50" font-family='"Liberation Serif", serif' font-size="7.2" font-weight="normal" font-style="normal" text-anchor="end" fill="#333" >6</text>
<line x1="341.10" y1="567.10" x2="341.10" y2="570.10" stroke="#555" stroke-width="0.9" />
<text x="341.10" y="577.80" font-family='"Liberation Serif", serif' font-size="7.2" font-weight="normal" font-style="normal" text-anchor="middle" fill="#333" >0.00</text>
<line x1="359.45" y1="567.10" x2="359.45" y2="568.70" stroke="#555" stroke-width="0.9" />
<line x1="377.80" y1="567.10" x2="377.80" y2="570.10" stroke="#555" stroke-width="0.9" />
<text x="377.80" y="577.80" font-family='"Liberation Serif", serif' font-size="7.2" font-weight="normal" font-style="normal" text-anchor="middle" fill="#333" >0.01</text>
<line x1="396.15" y1="567.10" x2="396.15" y2="568.70" stroke="#555" stroke-width="0.9" />
<line x1="414.50" y1="567.10" x2="414.50" y2="570.10" stroke="#555" stroke-width="0.9" />
<text x="414.50" y="577.80" font-family='"Liberation Serif", serif' font-size="7.2" font-weight="normal" font-style="normal" text-anchor="middle" fill="#333" >0.02</text>
<line x1="432.85" y1="567.10" x2="432.85" y2="568.70" stroke="#555" stroke-width="0.9" />
<line x1="451.20" y1="567.10" x2="451.20" y2="570.10" stroke="#555" stroke-width="0.9" />
<text x="451.20" y="577.80" font-family='"Liberation Serif", serif' font-size="7.2" font-weight="normal" font-style="normal" text-anchor="middle" fill="#333" >0.03</text>
<line x1="469.55" y1="567.10" x2="469.55" y2="568.70" stroke="#555" stroke-width="0.9" />
<line x1="487.90" y1="567.10" x2="487.90" y2="570.10" stroke="#555" stroke-width="0.9" />
<text x="487.90" y="577.80" font-family='"Liberation Serif", serif' font-size="7.2" font-weight="normal" font-style="normal" text-anchor="middle" fill="#333" >0.04</text>
<line x1="506.25" y1="567.10" x2="506.25" y2="568.70" stroke="#555" stroke-width="0.9" />
<line x1="524.60" y1="567.10" x2="524.60" y2="570.10" stroke="#555" stroke-width="0.9" />
<text x="524.60" y="577.80" font-family='"Liberation Serif", serif' font-size="7.2" font-weight="normal" font-style="normal" text-anchor="middle" fill="#333" >0.05</text>
<g transform="translate(307.3,494) rotate(-90)">
<text x="0.00" y="0.00" font-family='"Liberation Serif", serif' font-size="8.6" font-weight="bold" font-style="normal" text-anchor="middle" fill="#222" >q<tspan font-size="6" dy="1.5">e</tspan><tspan dy="-1.5"> (mmol/L)</tspan></text>
</g>
<text x="409.30" y="592.90" font-family='"Liberation Serif", serif' font-size="9.5" font-weight="bold" font-style="normal" text-anchor="start" fill="#111" >Na<tspan font-size="5.5" dy="-4">+</tspan><tspan dy="4"> (mol/L)</tspan></text>
<line x1="476.40" y1="512.80" x2="496.00" y2="512.80" stroke="#333" stroke-width="1" />
<circle cx="486.5" cy="512.8" r="2.1" fill="#000"/>
<text x="499.30" y="516.00" font-family='"Liberation Serif", serif' font-size="9" font-weight="normal" font-style="normal" text-anchor="start" fill="#222" >Pb(II)</text>
<line x1="476.40" y1="524.50" x2="496.00" y2="524.50" stroke="#333" stroke-width="1" />
<path d="M486.50,522.22 L488.69,526.21 L484.31,526.21Z" fill="#fff" stroke="#222" stroke-width="0.8"/>
<text x="499.30" y="527.70" font-family='"Liberation Serif", serif' font-size="9" font-weight="normal" font-style="normal" text-anchor="start" fill="#222" >Cu(II)</text>
</svg>
</body></html>
